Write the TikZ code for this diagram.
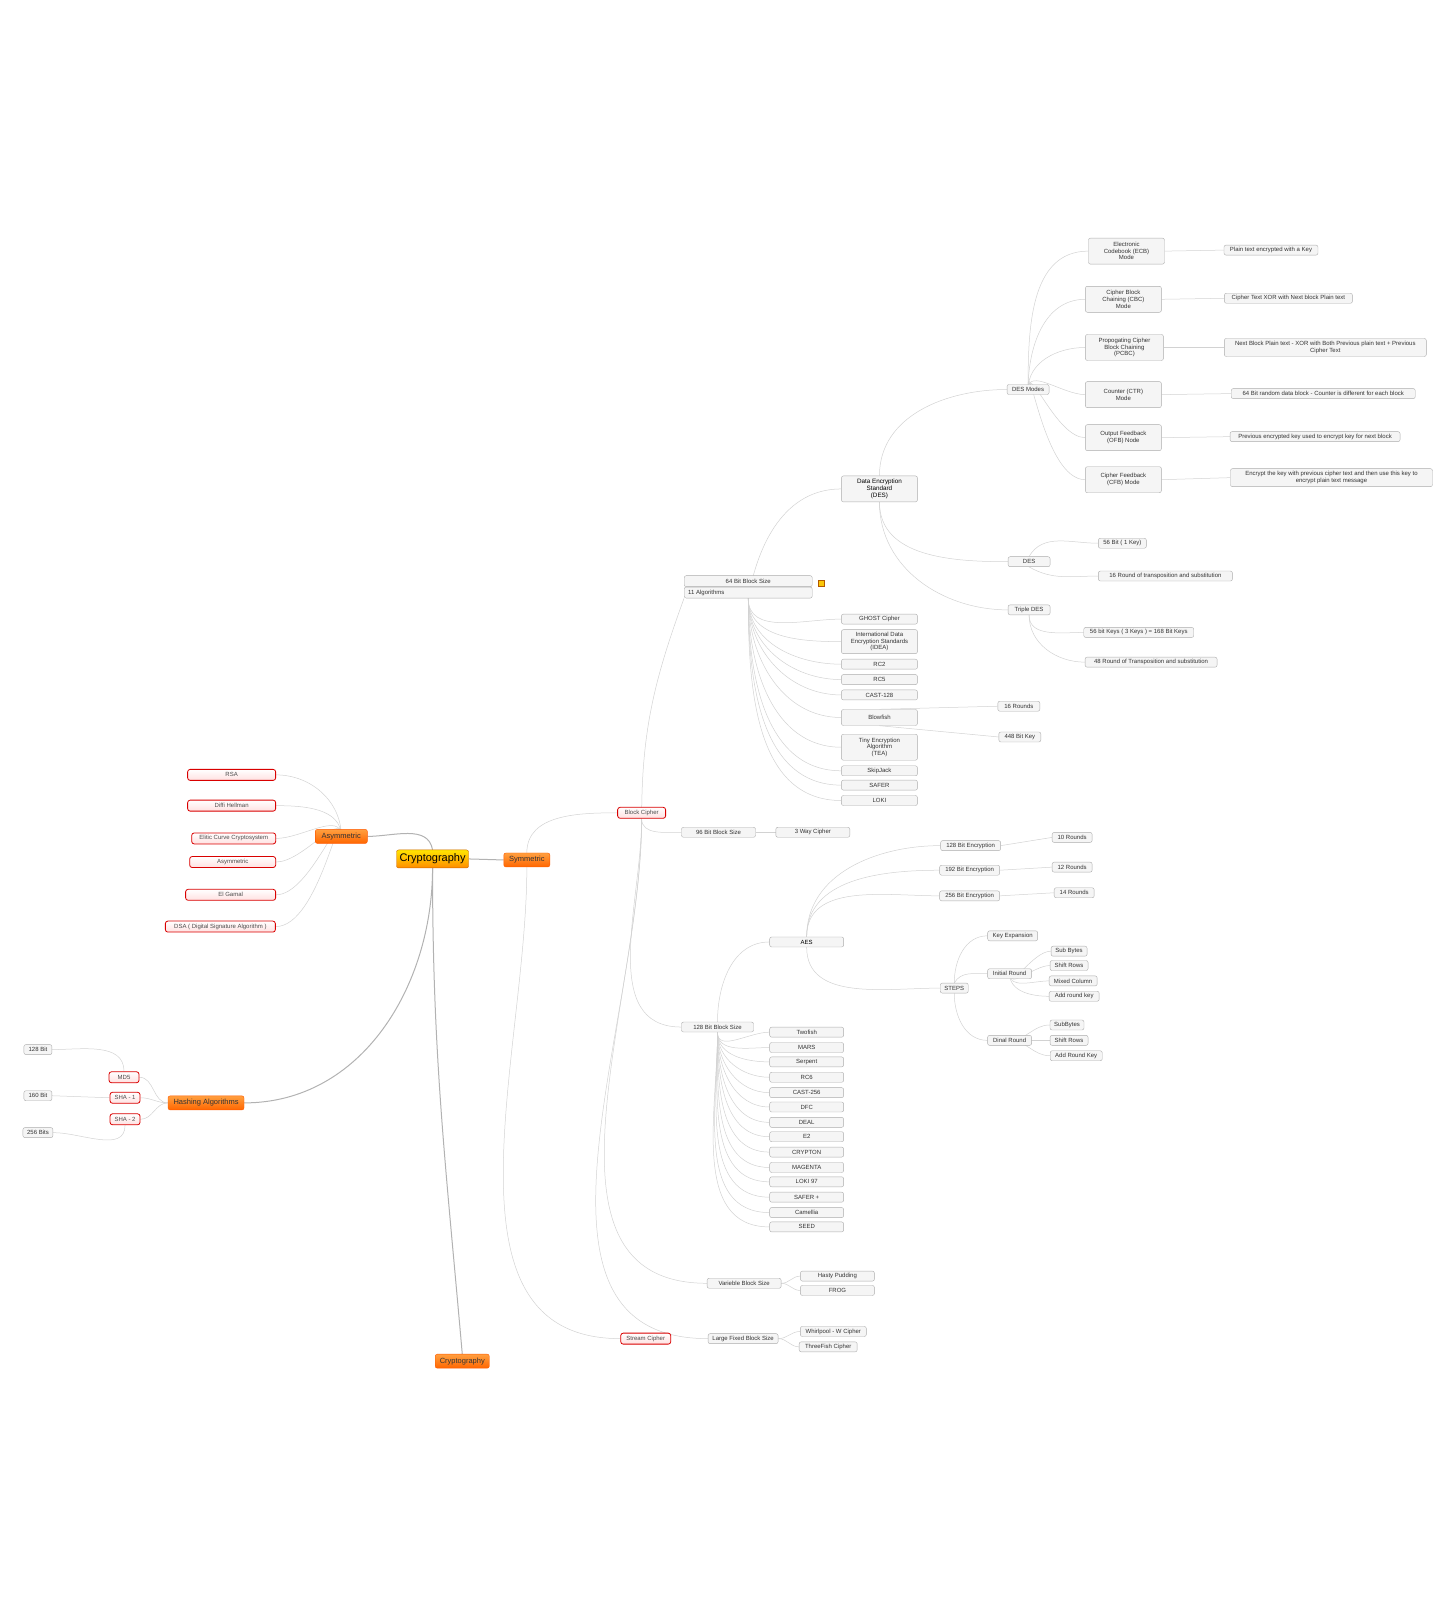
\documentclass[tikz,border=0pt]{standalone}
\usepackage{fontspec}
\setmainfont{Liberation Sans}
\usetikzlibrary{backgrounds}
\begin{document}
\begin{tikzpicture}[x=1.025pt,y=-1.025pt,
 bx/.style={draw=gray!65, fill=gray!8, rounded corners=2pt, font=\fontsize{6}{6.6}\selectfont, text=gray!40!black, inner sep=1pt, minimum height=10pt, align=center},
 rd/.style={draw=red!85!black, line width=0.8pt, top color=white, bottom color=red!12, rounded corners=2.5pt, font=\fontsize{6}{6.6}\selectfont, text=black!70, inner sep=1pt, minimum height=11pt, align=center},
 og/.style={draw=orange!70!red, top color=orange!75, bottom color=orange!80!red, rounded corners=2pt, font=\fontsize{7.5}{8}\selectfont, text=black!80, inner sep=2pt, minimum height=14pt},
 rt/.style={draw=orange!80!black, top color=yellow!80!orange, bottom color=orange!90!yellow, rounded corners=2pt, font=\fontsize{11}{12}\selectfont, text=black, inner sep=2pt, minimum height=18pt, minimum width=72pt},
 ln/.style={draw=gray!35, line width=0.5pt},
 lr/.style={draw=gray!60, line width=1pt}]
\path[use as bounding box] (0,0) rectangle (1414,1561);
% main
\node[rt] (root) at (422,838) {Cryptography};
\node[og, minimum width=52pt] (asym) at (333,816) {Asymmetric};
\node[og, minimum width=46pt] (sym) at (514,839) {Symmetric};
\node[og, minimum width=76pt] (hash) at (201,1076) {Hashing Algorithms};
\node[og, minimum width=54pt] (crb) at (451,1328) {Cryptography};
% asym
\node[rd, minimum width=88pt] (rsa) at (226,756) {RSA};
\node[rd, minimum width=88pt] (dh) at (226,786) {Diffi Hellman};
\node[rd, minimum width=84pt] (ecc) at (228,818) {Elitic Curve Cryptosystem};
\node[rd, minimum width=86pt] (as2) at (227,841) {Asymmetric};
\node[rd, minimum width=90pt] (elg) at (225,873) {El Gamal};
\node[rd, minimum width=110pt] (dsa) at (215,904) {DSA ( Digital Signature Algorithm )};
% hash
\node[rd, minimum width=30pt] (md5) at (121,1051) {MD5};
\node[rd, minimum width=30pt] (sha1) at (122,1071) {SHA - 1};
\node[rd, minimum width=30pt] (sha2) at (122,1092) {SHA - 2};
\node[bx, minimum width=28pt] (h128) at (37,1024) {128 Bit};
\node[bx, minimum width=28pt] (h160) at (37,1069) {160 Bit};
\node[bx, minimum width=30pt] (h256) at (37,1105) {256 Bits};
% symmetric
\node[rd, minimum width=48pt] (bc) at (626,793) {Block Cipher};
\node[rd, minimum width=50pt] (sc) at (630,1306) {Stream Cipher};
\node[bx, minimum width=128pt, minimum height=11pt] (b64) at (730,567) {64 Bit Block Size};
\node[bx, minimum width=128pt, minimum height=11pt, align=left, anchor=north] (b64b) at (b64.south) {\makebox[120pt][l]{11 Algorithms}};
\node[draw=orange!70!black, fill=yellow!60!orange, minimum width=6pt, minimum height=6pt, inner sep=0pt] (note) at (801,569) {};
\node[bx, minimum width=74pt] (b96) at (701,812) {96 Bit Block Size};
\node[bx, minimum width=72pt] (b128) at (700,1002) {128 Bit Block Size};
\node[bx, minimum width=74pt] (bvar) at (726,1252) {Varieble Block Size};
\node[bx, minimum width=70pt] (blf) at (725,1306) {Large Fixed Block Size};
% 64 bit
\node[bx, minimum width=76pt, minimum height=26pt, font=\fontsize{6.3}{6.8}\selectfont, text=black] (des) at (858,477) {Data Encryption\\Standard\\(DES)};
\foreach \n/\y/\t in {ghost/604/GHOST Cipher, rc2/648/RC2, rc5/663/RC5, cast/678/CAST-128, skip/752/SkipJack, safer/766/SAFER, loki/781/LOKI}
  \node[bx, minimum width=76pt] (\n) at (858,\y) {\t};
\node[bx, minimum width=76pt, minimum height=24pt] (idea) at (858,626) {International Data\\Encryption Standards\\(IDEA)};
\node[bx, minimum width=76pt, minimum height=16pt] (blow) at (858,700) {Blowfish};
\node[bx, minimum width=76pt, minimum height=26pt] (tea) at (858,729) {Tiny Encryption\\Algorithm\\(TEA)};
\node[bx, minimum width=42pt] (r16) at (994,689) {16 Rounds};
\node[bx, minimum width=42pt] (k448) at (995,719) {448 Bit Key};
% DES
\node[bx, minimum width=42pt] (dm) at (1003,380) {DES Modes};
\node[bx, minimum width=42pt] (des2) at (1004,548) {DES};
\node[bx, minimum width=42pt] (tdes) at (1004,595) {Triple DES};
\node[bx, minimum width=76pt, minimum height=26pt] (ecb) at (1099,245) {Electronic\\Codebook (ECB)\\Mode};
\node[bx, minimum width=76pt, minimum height=26pt] (cbc) at (1096,292) {Cipher Block\\Chaining (CBC)\\Mode};
\node[bx, minimum width=78pt, minimum height=26pt] (pcbc) at (1097,339) {Propogating Cipher\\Block Chaining\\(PCBC)};
\node[bx, minimum width=76pt, minimum height=26pt] (ctr) at (1096,385) {Counter (CTR)\\Mode};
\node[bx, minimum width=76pt, minimum height=26pt] (ofb) at (1096,427) {Output Feedback\\(OFB) Node};
\node[bx, minimum width=76pt, minimum height=26pt] (cfb) at (1096,468) {Cipher Feedback\\(CFB) Mode};
\node[bx, minimum width=94pt] (ecbt) at (1240,244) {Plain text encrypted with a Key};
\node[bx, minimum width=128pt] (cbct) at (1257,291) {Cipher Text XOR with Next block Plain text};
\node[bx, minimum width=202pt, minimum height=18pt] (pcbct) at (1293,339) {Next Block Plain text - XOR with Both Previous plain text + Previous\\Cipher Text};
\node[bx, minimum width=184pt] (ctrt) at (1291,384) {64 Bit random data block - Counter is different for each block};
\node[bx, minimum width=170pt] (ofbt) at (1283,426) {Previous encrypted key used to encrypt key for next block};
\node[bx, minimum width=202pt, minimum height=18pt] (cfbt) at (1299,466) {Encrypt the key with previous cipher text and then use this key to\\encrypt plain text message};
\node[bx, minimum width=48pt] (k56) at (1095,530) {56 Bit ( 1 Key)};
\node[bx, minimum width=134pt] (r16t) at (1137,562) {16 Round of transposition and substitution};
\node[bx, minimum width=110pt] (k168) at (1111,617) {56 bit Keys ( 3 Keys ) = 168 Bit Keys};
\node[bx, minimum width=132pt] (r48) at (1123,646) {48 Round of Transposition and substitution};
% 96
\node[bx, minimum width=74pt] (way3) at (793,812) {3 Way Cipher};
% 128
\node[bx, minimum width=74pt, text=black] (aes) at (787,919) {AES};
\foreach \n/\y/\t in {tw/1007/Twofish, mars/1022/MARS, serp/1036/Serpent, rc6/1051/RC6, c256/1066/CAST-256, dfc/1080/DFC, deal/1095/DEAL, e2/1109/E2, cry/1124/CRYPTON, mag/1139/MAGENTA, l97/1153/LOKI 97, sp/1168/SAFER +, cam/1183/Camellia, seed/1197/SEED}
  \node[bx, minimum width=74pt] (\n) at (787,\y) {\t};
\node[bx, minimum width=60pt] (e128) at (947,825) {128 Bit  Encryption};
\node[bx, minimum width=60pt] (e192) at (946,849) {192 Bit Encryption};
\node[bx, minimum width=60pt] (e256) at (946,874) {256 Bit Encryption};
\node[bx, minimum width=28pt] (steps) at (931,964) {STEPS};
\node[bx, minimum width=40pt] (r10) at (1046,817) {10 Rounds};
\node[bx, minimum width=40pt] (r12) at (1046,846) {12 Rounds};
\node[bx, minimum width=40pt] (r14) at (1048,871) {14 Rounds};
\node[bx, minimum width=50pt] (kexp) at (988,913) {Key Expansion};
\node[bx, minimum width=44pt] (ir) at (985,950) {Initial Round};
\node[bx, minimum width=44pt] (dr) at (985,1015) {Dinal Round};
\node[bx, minimum width=36pt] (sb1) at (1043,928) {Sub Bytes};
\node[bx, minimum width=38pt] (sr1) at (1043,942) {Shift Rows};
\node[bx, minimum width=48pt] (mc) at (1047,957) {Mixed Column};
\node[bx, minimum width=50pt] (ark1) at (1048,972) {Add round key};
\node[bx, minimum width=34pt] (sb2) at (1041,1000) {SubBytes};
\node[bx, minimum width=38pt] (sr2) at (1043,1015) {Shift Rows};
\node[bx, minimum width=52pt] (ark2) at (1050,1030) {Add Round Key};
% var / fixed
\node[bx, minimum width=74pt] (hp) at (817,1245) {Hasty Pudding};
\node[bx, minimum width=74pt] (frog) at (817,1259) {FROG};
\node[bx, minimum width=66pt] (wp) at (813,1299) {Whirlpool - W Cipher};
\node[bx, minimum width=58pt] (tf) at (808,1314) {ThreeFish Cipher};
\begin{scope}[on background layer]
\draw[lr] (root.north) to[out=100,in=0] (asym.east);
\draw[lr] (root.east) -- (sym.west);
\draw[lr] (root.south) to[out=-90,in=0] (hash.east);
\draw[lr] (root.south) to[out=-90,in=95] (crb.north);
\foreach \c in {rsa,dh,ecc,as2,elg,dsa} \draw[ln] (asym.center) to[out=180-90*sign(\pgfkeysvalueof{/pgf/minimum width}),in=0] (\c.east);
\draw[ln] (md5.north) to[out=90,in=0] (h128.east);
\draw[ln] (sha1.west) -- (h160.east);
\draw[ln] (sha2.south) to[out=-90,in=0] (h256.east);
\foreach \c in {md5,sha1,sha2} \draw[ln] (hash.west) to[out=180,in=0] (\c.east);
\draw[ln] (sym.north) to[out=90,in=180] (bc.west);
\draw[ln] (sym.south) to[out=-90,in=180] (sc.west);
\draw[ln] (bc.south) to[out=90,in=-110] (b64b.south west);
\foreach \c in {b96,b128,bvar,blf} \draw[ln] (bc.south) to[out=-90,in=180] (\c.west);
\draw[ln] (b64b.south) to[out=80,in=180] (des.west);
\foreach \c in {ghost,idea,rc2,rc5,cast,blow,tea,skip,safer,loki} \draw[ln] (b64b.south) to[out=-90,in=180] (\c.west);
\draw[ln] (blow.north) -- (r16.west);
\draw[ln] (blow.south) -- (k448.west);
\draw[ln] (des.north) to[out=90,in=180] (dm.west);
\draw[ln] (des.south) to[out=-90,in=180] (des2.west);
\draw[ln] (des.south) to[out=-90,in=180] (tdes.west);
\foreach \c/\t in {ecb/ecbt,cbc/cbct,pcbc/pcbct,ctr/ctrt,ofb/ofbt,cfb/cfbt} {\draw[ln] (dm.center) to[out=90*sign(\pgfkeysvalueof{/pgf/minimum width}),in=180] (\c.west); \draw[ln] (\c.east) -- (\t.west);}
\draw[ln] (des2.north) to[out=60,in=180] (k56.west);
\draw[ln] (des2.south) to[out=-30,in=180] (r16t.west);
\draw[ln] (tdes.south) to[out=-90,in=180] (k168.west);
\draw[ln] (tdes.south) to[out=-90,in=180] (r48.west);
\draw[ln] (b96.east) -- (way3.west);
\draw[ln] (b128.north) to[out=90,in=180] (aes.west);
\foreach \c in {tw,mars,serp,rc6,c256,dfc,deal,e2,cry,mag,l97,sp,cam,seed} \draw[ln] (b128.south) to[out=-90,in=180] (\c.west);
\foreach \c in {e128,e192,e256} \draw[ln] (aes.north) to[out=90,in=180] (\c.west);
\draw[ln] (aes.south) to[out=-90,in=180] (steps.west);
\draw[ln] (e128.east) -- (r10.west);
\draw[ln] (e192.east) -- (r12.west);
\draw[ln] (e256.east) -- (r14.west);
\draw[ln] (steps.north) to[out=90,in=180] (kexp.west);
\draw[ln] (steps.north) to[out=60,in=180] (ir.west);
\draw[ln] (steps.south) to[out=-90,in=180] (dr.west);
\foreach \c in {sb1,sr1,mc,ark1} \draw[ln] (ir.center) to[out=-90,in=180] (\c.west);
\foreach \c in {sb2,sr2,ark2} \draw[ln] (dr.center) to[out=0,in=180] (\c.west);
\foreach \c in {hp,frog} \draw[ln] (bvar.east) to[out=0,in=180] (\c.west);
\foreach \c in {wp,tf} \draw[ln] (blf.east) to[out=0,in=180] (\c.west);
\end{scope}
\end{tikzpicture}
\end{document}
